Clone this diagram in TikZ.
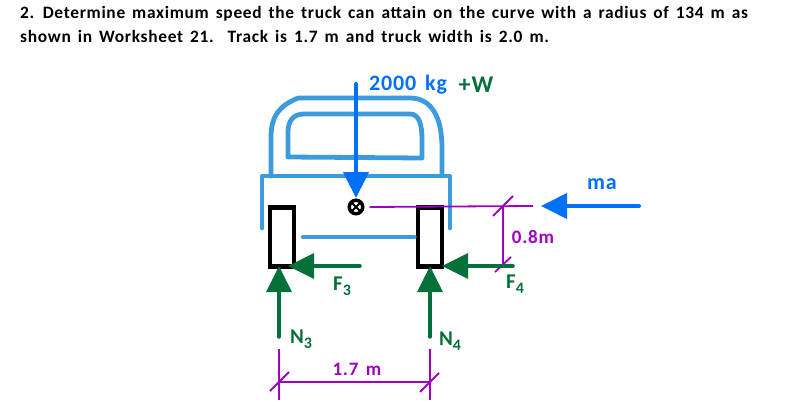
\documentclass[tikz,border=0pt]{standalone}
\usepackage{fontspec}
\setmainfont{Carlito}[BoldFont=* Bold,WordSpace=1.5,LetterSpace=4]
\usetikzlibrary{arrows.meta,positioning}
\definecolor{truckblue}{HTML}{3B9BDD}
\definecolor{forceblue}{HTML}{0070F5}
\definecolor{forcegreen}{HTML}{06703A}
\definecolor{dimpurple}{HTML}{A000C0}
\newcommand{\lowdigit}[1]{\raisebox{-5pt}{\fontsize{16}{18}\selectfont #1}}

\begin{document}
\begin{tikzpicture}[x=1pt,y=-1pt,
  truck/.style={draw=truckblue,line width=4.8pt,line cap=round,line join=round},
  wheel/.style={draw=black,line width=4.5pt,fill=white,minimum width=24pt,minimum height=59pt,inner sep=0pt},
  bluef/.style={draw=forceblue,line width=4pt,-{Triangle[length=26pt,width=25pt]},forceblue},
  greenf/.style={draw=forcegreen,line width=3.5pt,-{Triangle[length=26pt,width=25pt]},forcegreen},
  dimline/.style={draw=dimpurple,line width=1.8pt},
  headtext/.style={anchor=base west,inner sep=0pt,font=\bfseries\fontsize{17.4}{20}\selectfont},
  bluetext/.style={text=forceblue,inner sep=0pt,font=\bfseries\fontsize{22}{24}\selectfont},
  greentext/.style={text=forcegreen,inner sep=0pt,font=\bfseries\fontsize{21}{24}\selectfont},
  dimtext/.style={text=dimpurple,inner sep=0pt,font=\bfseries\fontsize{19}{22}\selectfont}]
\useasboundingbox (0,0) rectangle (791,401);

\node[headtext] (line1) at (20,19) {2. Determine maximum speed the truck can attain on the curve with a radius of 134 m as};
\node[headtext] (line2) at (20,43) {shown in Worksheet 21.\ \ Track is 1.7 m and truck width is 2.0 m.};

% truck
\draw[truck] (262,228) -- (262,176) -- (450,176) -- (450,228);
\draw[truck] (271,176) -- (271,138) .. controls (271,116) and (279,106) .. (298,98)
  -- (410,98) .. controls (432,98) and (442,118) .. (442,148) -- (442,176);
\draw[truck] (288,157) -- (288,132) .. controls (288,120) and (294,114) .. (304,114)
  -- (410,114) .. controls (419,114) and (422,124) .. (422,140) -- (422,158) -- cycle;
\node[wheel] (wheel3) at (282,237) {};
\node[wheel] (wheel4) at (430,237) {};
\draw[truck] (wheel3.east) ++(7,0) -- ++(111,0);

% centre of mass
\node[circle,draw=black,line width=3.5pt,minimum size=13.5pt,inner sep=0pt,
  path picture={\draw[line width=2pt] (path picture bounding box.north west) -- (path picture bounding box.south east)
  (path picture bounding box.north east) -- (path picture bounding box.south west);}] (cg) at (356,207) {};

% dimensions
\coordinate (cgend) at (533,206);
\coordinate (hgt1) at (503,206);
\coordinate (hgt2) at (503,266);
\coordinate (trk3) at (279,382);
\coordinate (trk4) at (430,382);
\draw[dimline] (cg.east) ++(5,0) -- (cgend);
\draw[dimline] (hgt1) -- (hgt2);
\draw[dimline] (493,216) -- (513,196);
\draw[dimline] (495,272) -- (511,257);
\draw[dimline] (trk3) -- (trk4);
\draw[dimline] (279,349) -- (279,400);
\draw[dimline] (430,349) -- (430,400);
\draw[dimline] (270,391) -- (289,372);
\draw[dimline] (420,392) -- (439,373);
\node[dimtext] (hgtlabel) at (533,237) {0.8m};
\node[dimtext] (trklabel) at (357,369) {1.7 m};

% forces
\coordinate (wtail) at (356,84);
\coordinate (wtip) at (356,198);
\coordinate (matail) at (639,206);
\coordinate (matip) at (541,206);
\draw[bluef,line cap=round] (wtail) -- (wtip);
\draw[bluef,line cap=round] (matail) -- (matip);
\coordinate (f3tail) at (360,266);
\coordinate (f3tip) at (288,266);
\coordinate (f4tail) at (513,266);
\coordinate (f4tip) at (442,266);
\coordinate (n3tail) at (279,337);
\coordinate (n3tip) at (279,266);
\coordinate (n4tail) at (430,337);
\coordinate (n4tip) at (430,266);
\draw[greenf,line cap=round] (f3tail) -- (f3tip);
\draw[greenf,line cap=round] (f4tail) -- (f4tip);
\draw[greenf,line cap=round] (n3tail) -- (n3tip);
\draw[greenf,line cap=round] (n4tail) -- (n4tip);

\node[bluetext] (wlabel) at (408,85) {2000 kg};
\node[greentext,font=\bfseries\fontsize{24}{26}\selectfont] (plusw) at (476,85) {+W};
\node[bluetext] (malabel) at (602,184) {ma};
\node[greentext] (f3label) at (342,286) {F\lowdigit{3}};
\node[greentext] (f4label) at (515,284) {F\lowdigit{4}};
\node[greentext] (n3label) at (301,339) {N\lowdigit{3}};
\node[greentext] (n4label) at (450,341) {N\lowdigit{4}};
\end{tikzpicture}
\end{document}
